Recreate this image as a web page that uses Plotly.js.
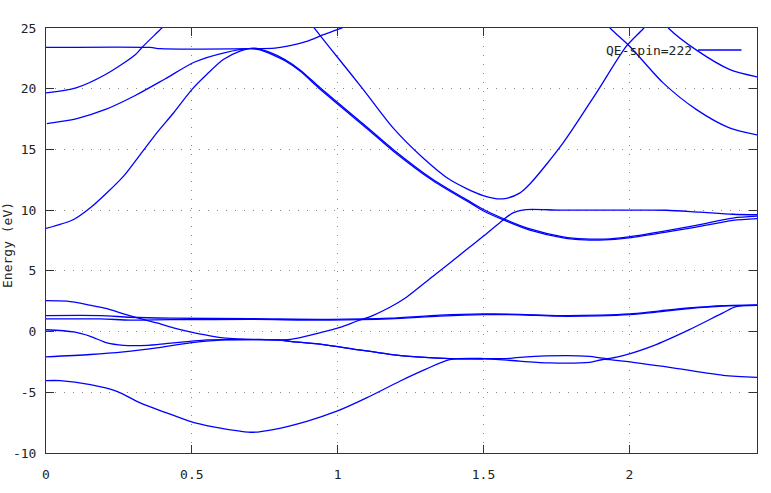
<!DOCTYPE html>
<html>
<head>
<meta charset="utf-8">
<script src="https://cdn.plot.ly/plotly-3.0.1.min.js"></script>
<style>html,body{margin:0;padding:0;background:#fff;}#chart{width:771px;height:493px;}</style>
</head>
<body>
<div id="chart"></div>
<script>
// ---- data: k-path position and band energies (eV) ----
const seriesName = "QE-spin=222";
const yTitle = "Energy (eV)";

const bandL1K = [0, 0.049, 0.152, 0.243, 0.323, 0.414, 0.494, 0.574, 0.665, 0.711, 0.779, 0.894, 0.997, 1.099, 1.213, 1.293, 1.384, 1.499, 1.624, 1.727, 1.864, 1.91, 1.978, 2.149, 2.321, 2.438];
const bandL1E = [-4.04, -4.04, -4.37, -4.92, -5.87, -6.7, -7.39, -7.85, -8.2, -8.29, -8.07, -7.39, -6.56, -5.46, -4.09, -3.2, -2.31, -2.22, -2.44, -2.58, -2.53, -2.3, -2.44, -2.99, -3.6, -3.78];

const bandL2K = [0, 0.152, 0.266, 0.38, 0.494, 0.597, 0.7, 0.802, 0.837, 0.951, 1.065, 1.179, 1.271, 1.384, 1.499, 1.59, 1.636, 1.784, 1.864, 1.923, 1.978, 2.092, 2.206, 2.321, 2.366, 2.438];
const bandL2E = [-2.08, -1.89, -1.67, -1.34, -0.93, -0.7, -0.66, -0.7, -0.8, -1.07, -1.48, -1.87, -2.08, -2.22, -2.24, -2.2, -2.1, -1.98, -2.05, -2.22, -1.98, -1.07, 0.16, 1.54, 2.05, 2.15];

const band0K = [0, 0.095, 0.152, 0.209, 0.266, 0.323, 0.38, 0.437, 0.494, 0.551, 0.631, 0.734, 0.837, 0.951, 1.008, 1.065, 1.122, 1.179, 1.236, 1.327, 1.442, 1.499, 1.555, 1.601, 1.647, 1.761, 1.898, 2.035, 2.127, 2.241, 2.355, 2.438];
const band0E = [0.15, -0.03, -0.39, -0.93, -1.13, -1.15, -1.07, -0.93, -0.8, -0.68, -0.66, -0.66, -0.64, -0.03, 0.35, 0.85, 1.34, 2.0, 2.83, 4.56, 6.75, 7.85, 8.95, 9.78, 10.05, 10.0, 10.0, 10.0, 9.99, 9.83, 9.66, 9.62];

const band255K = [0, 0.072, 0.152, 0.209, 0.266, 0.323, 0.38, 0.437, 0.494, 0.551, 0.608, 0.665, 0.734, 0.802, 0.837, 0.951, 1.065, 1.179, 1.271, 1.384, 1.499];
const band255E = [2.55, 2.5, 2.17, 1.89, 1.46, 1.07, 0.71, 0.3, -0.03, -0.3, -0.52, -0.6, -0.65, -0.7, -0.8, -1.07, -1.48, -1.87, -2.08, -2.22, -2.24];

const bandUK = [0, 0.186, 0.289, 0.426, 0.7, 0.974, 1.179, 1.35, 1.499, 1.624, 1.75, 1.898, 2.001, 2.092, 2.206, 2.321, 2.438];
const bandU1E = [1.32, 1.32, 1.18, 1.1, 1.06, 1.0, 1.1, 1.35, 1.45, 1.42, 1.32, 1.35, 1.45, 1.67, 1.95, 2.14, 2.2];
const bandU2E = [1.04, 1.04, 0.95, 0.98, 1.0, 0.95, 1.05, 1.28, 1.4, 1.38, 1.27, 1.3, 1.4, 1.6, 1.9, 2.1, 2.15];

const band85K = [0, 0.095, 0.152, 0.209, 0.266, 0.323, 0.38, 0.437, 0.5, 0.551, 0.608, 0.665, 0.711, 0.768, 0.819, 0.871, 0.939, 1.008, 1.099, 1.19, 1.327, 1.464, 1.5, 1.573, 1.659, 1.773, 1.847, 1.916, 1.99, 2.115, 2.229, 2.355, 2.438];
const band85E = [8.5, 9.23, 10.19, 11.43, 12.8, 14.58, 16.37, 18.0, 19.93, 21.17, 22.4, 23.1, 23.35, 23.0, 22.4, 21.55, 20.1, 18.7, 16.86, 15.0, 12.52, 10.55, 10.05, 9.25, 8.45, 7.8, 7.63, 7.62, 7.78, 8.26, 8.75, 9.35, 9.5];

const band17K = [0.003, 0.103, 0.204, 0.306, 0.408, 0.51, 0.611, 0.7, 0.734, 0.819, 0.871, 0.939, 1.008, 1.099, 1.19, 1.327, 1.464, 1.5, 1.573, 1.659, 1.773, 1.847, 1.916, 1.99, 2.115, 2.229, 2.355, 2.438];
const band17E = [17.13, 17.52, 18.29, 19.44, 20.8, 22.2, 22.96, 23.3, 23.2, 22.3, 21.45, 19.98, 18.58, 16.75, 14.88, 12.42, 10.45, 9.93, 9.15, 8.35, 7.72, 7.55, 7.55, 7.7, 8.15, 8.6, 9.15, 9.3];

const band197K = [0, 0.103, 0.204, 0.306, 0.329, 0.397, 0.43];
const band197E = [19.66, 20.07, 21.17, 22.8, 23.4, 25.0, 25.8];

const band23K = [0, 0.357, 0.391, 0.7, 0.785, 0.837, 0.894, 0.951, 1.008, 1.042];
const band23E = [23.4, 23.4, 23.3, 23.3, 23.35, 23.55, 23.9, 24.45, 24.95, 25.3];

const bandSK = [0.9, 0.951, 1.0, 1.088, 1.19, 1.293, 1.384, 1.499, 1.567, 1.624, 1.659, 1.773, 1.887, 1.99, 2.046, 2.07];
const bandSE = [25.6, 24.05, 22.57, 19.93, 16.78, 14.3, 12.52, 11.2, 10.93, 11.4, 12.15, 15.54, 19.66, 23.5, 24.9, 25.6];

const bandT1K = [1.923, 1.938, 2.001, 2.115, 2.229, 2.343, 2.438];
const bandT1E = [25.3, 24.9, 23.5, 20.5, 18.3, 16.78, 16.2];

const bandT2K = [2.121, 2.138, 2.229, 2.343, 2.438];
const bandT2E = [25.4, 24.9, 23.2, 21.6, 20.98];

const xTickVals = [0, 0.5, 1, 1.5, 2];
const xTickText = ["0", "0.5", "1", "1.5", "2"];
const yTickVals = [-10, -5, 0, 5, 10, 15, 20, 25];
const yTickText = ["-10", "-5", "0", "5", "10", "15", "20", "25"];

// ---- build traces ----
const bandList = [
  [bandL1K, bandL1E], [bandL2K, bandL2E], [band0K, band0E], [band255K, band255E],
  [bandUK, bandU1E], [bandUK, bandU2E], [band85K, band85E], [band17K, band17E],
  [band197K, band197E], [band23K, band23E], [bandSK, bandSE], [bandT1K, bandT1E], [bandT2K, bandT2E]
];
const blue = "#0000ff";
const traces = bandList.map(function (b) {
  return {
    x: b[0], y: b[1], type: "scatter", mode: "lines",
    name: seriesName, showlegend: false,
    line: {color: blue, width: 1.3, shape: "spline", smoothing: 0.8}
  };
});

const monoFont = {family: "DejaVu Sans Mono, monospace", size: 13, color: "#222"};
const L = 46, R = 14, T = 28, B = 40, W = 771, H = 493;
const pw = W - L - R, ph = H - T - B;

const axisCommon = {
  showline: true, linecolor: "#333", linewidth: 1, mirror: "ticks",
  ticks: "inside", ticklen: 8, tickcolor: "#333", tickwidth: 1,
  showgrid: true, gridcolor: "#8a8a8a", gridwidth: 1, griddash: "1px,8px",
  zeroline: false, tickfont: monoFont, fixedrange: true
};

const layout = {
  width: W, height: H,
  margin: {l: L, r: R, t: T, b: B, pad: 0},
  paper_bgcolor: "#fff", plot_bgcolor: "#fff",
  showlegend: false,
  xaxis: Object.assign({}, axisCommon, {range: [0, 2.4377], tickvals: xTickVals, ticktext: xTickText, ticklabelstandoff: 9}),
  yaxis: Object.assign({}, axisCommon, {range: [-10, 25], tickvals: yTickVals, ticktext: yTickText, ticklabelstandoff: 6}),
  annotations: [
    {text: seriesName, xref: "paper", yref: "paper",
     x: (694 - L) / pw, y: (H - B - 50) / ph, xanchor: "right", yanchor: "middle",
     showarrow: false, font: monoFont},
    {text: yTitle, xref: "paper", yref: "paper",
     x: (8 - L) / pw, y: (H - B - 245) / ph, xanchor: "center", yanchor: "middle",
     textangle: -90, showarrow: false, font: monoFont}
  ],
  shapes: [
    {type: "line", xref: "paper", yref: "paper",
     x0: (698 - L) / pw, x1: (741.5 - L) / pw, y0: (H - B - 50) / ph, y1: (H - B - 50) / ph,
     line: {color: blue, width: 1.3}}
  ]
};

Plotly.newPlot("chart", traces, layout, {staticPlot: true, displayModeBar: false});
</script>
</body>
</html>
